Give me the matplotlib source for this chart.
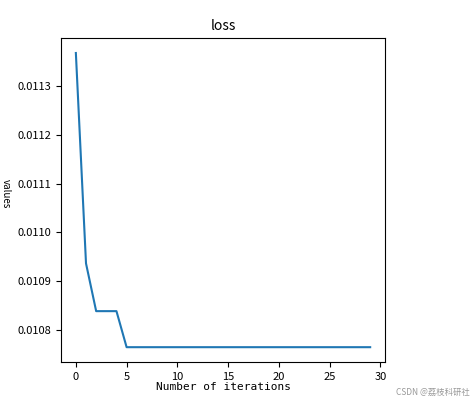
import matplotlib.pyplot as plt

iterations = list(range(30))
loss_values = [0.011368, 0.010936, 0.010838, 0.010838, 0.010838] + [0.010764] * 25

plt.rcParams['font.family'] = ['Noto Sans CJK SC', 'DejaVu Sans']

fig = plt.figure(figsize=(4.74, 4.03), dpi=100)
ax = fig.add_axes([0.129, 0.102, 0.683, 0.803])
ax.plot(iterations, loss_values, color='#1f77b4', linewidth=1.5)
ax.set_title("loss", fontsize=10)
ax.set_xlabel("Number of iterations", fontsize=8, labelpad=0,
              family=['DejaVu Sans Mono'])
ax.set_xticks([0, 5, 10, 15, 20, 25, 30])
ax.set_yticks([0.0108, 0.0109, 0.0110, 0.0111, 0.0112, 0.0113])
ax.set_yticklabels(["0.0108", "0.0109", "0.0110", "0.0111", "0.0112", "0.0113"])
ax.tick_params(labelsize=8)
ax.set_xlim(-1.45, 30.45)

fig.text(0.012, 0.52, "values", rotation=-90, ha='center', va='center', fontsize=7)
fig.text(0.99, 0.015, "CSDN @荔枝科研社", ha='right', va='bottom', fontsize=6,
         color='#999999')

plt.savefig("out.png", dpi=100)
